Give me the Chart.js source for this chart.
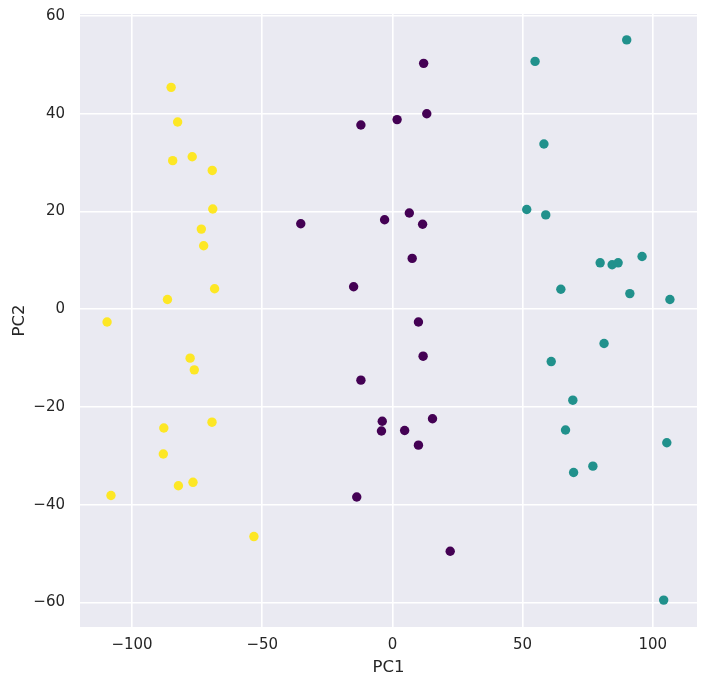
<!DOCTYPE html>
<html>
<head>
<meta charset="utf-8">
<script src="https://cdn.jsdelivr.net/npm/chart.js@4.4.1/dist/chart.umd.min.js"></script>
<style>
html,body{margin:0;padding:0;background:#ffffff;}
#wrap{width:708px;height:690px;position:relative;}
</style>
</head>
<body>
<div id="wrap"><canvas id="c" width="708" height="690"></canvas></div>
<script>
// Cluster 0 (purple)
const cluster0X = [12.0, 13.2, 1.8, -12.1, 6.5, -3.0, -35.2, 11.6, 7.6, -14.9, 10.0, 11.8, -12.1, 15.4, -3.9, -4.2, 4.7, 10.0, -13.7, 22.2];
const cluster0Y = [50.3, 40.0, 38.8, 37.7, 19.7, 18.3, 17.5, 17.4, 10.4, 4.6, -2.6, -9.6, -14.5, -22.4, -22.9, -24.9, -24.8, -27.8, -38.4, -49.5];
// Cluster 1 (teal)
const cluster1X = [90.0, 54.8, 58.2, 51.6, 58.9, 79.8, 84.4, 86.7, 95.9, 64.7, 91.2, 106.6, 81.3, 61.0, 69.3, 66.5, 105.4, 77.0, 69.6, 104.2];
const cluster1Y = [55.1, 50.7, 33.8, 20.4, 19.3, 9.5, 9.1, 9.5, 10.8, 4.1, 3.2, 2.0, -7.0, -10.7, -18.6, -24.7, -27.3, -32.1, -33.4, -59.5];
// Cluster 2 (yellow)
const cluster2X = [-85.0, -82.5, -84.4, -76.9, -69.2, -69.0, -73.4, -72.5, -68.3, -86.4, -109.6, -77.7, -76.1, -69.3, -87.8, -88.0, -76.6, -82.2, -108.1, -53.2];
const cluster2Y = [45.4, 38.3, 30.4, 31.2, 28.4, 20.5, 16.4, 13.0, 4.2, 2.0, -2.6, -10.0, -12.4, -23.1, -24.3, -29.6, -35.4, -36.1, -38.1, -46.5];

const xTickValues = [-100, -50, 0, 50, 100];
const yTickValues = [-60, -40, -20, 0, 20, 40, 60];
const xLabel = 'PC1';
const yLabel = 'PC2';
const clusterColors = ['#440154', '#21918c', '#fde725'];

function pts(xs, ys){ return xs.map((x,i)=>({x:x, y:ys[i]})); }

const bgPlugin = {
  id: 'plotBg',
  beforeDraw(chart){
    const a = chart.chartArea, ctx = chart.ctx;
    ctx.save();
    ctx.fillStyle = '#eaeaf2';
    ctx.fillRect(a.left, a.top, a.right - a.left, a.bottom - a.top);
    ctx.restore();
  }
};

const fmt = v => (v < 0 ? '\u2212' + Math.abs(v) : String(v));

new Chart(document.getElementById('c'), {
  type: 'scatter',
  data: {
    datasets: [
      {data: pts(cluster0X, cluster0Y), backgroundColor: clusterColors[0], borderWidth: 0, pointRadius: 4.7, pointHoverRadius: 4.7},
      {data: pts(cluster1X, cluster1Y), backgroundColor: clusterColors[1], borderWidth: 0, pointRadius: 4.7, pointHoverRadius: 4.7},
      {data: pts(cluster2X, cluster2Y), backgroundColor: clusterColors[2], borderWidth: 0, pointRadius: 4.7, pointHoverRadius: 4.7}
    ]
  },
  options: {
    responsive: false,
    animation: false,
    layout: {padding: {left: 0, right: 11, top: 14, bottom: 0}},
    plugins: {legend: {display: false}, tooltip: {enabled: false}},
    scales: {
      x: {
        type: 'linear', min: -120, max: 117,
        afterBuildTicks: ax => { ax.ticks = xTickValues.map(v => ({value: v})); },
        afterFit: ax => { ax.height = 63; ax.paddingLeft = 0; ax.paddingRight = 0; },
        border: {display: false},
        grid: {color: '#ffffff', lineWidth: 1.6, drawTicks: false},
        ticks: {color: '#262626', font: {family: 'DejaVu Sans', size: 15}, padding: 9, callback: fmt, maxRotation: 0},
        title: {display: true, text: xLabel, color: '#262626', font: {family: 'DejaVu Sans', size: 16.5}, padding: {top: 0, bottom: 12}}
      },
      y: {
        type: 'linear', min: -65, max: 60.4,
        afterBuildTicks: ax => { ax.ticks = yTickValues.map(v => ({value: v})); },
        afterFit: ax => { ax.width = 80; ax.paddingTop = 0; ax.paddingBottom = 0; },
        border: {display: false},
        grid: {color: '#ffffff', lineWidth: 1.6, drawTicks: false},
        ticks: {color: '#262626', font: {family: 'DejaVu Sans', size: 15}, padding: 15, callback: fmt},
        title: {display: true, text: yLabel, color: '#262626', font: {family: 'DejaVu Sans', size: 16.5}, padding: {top: 10, bottom: 0}}
      }
    }
  },
  plugins: [bgPlugin]
});
</script>
</body>
</html>
